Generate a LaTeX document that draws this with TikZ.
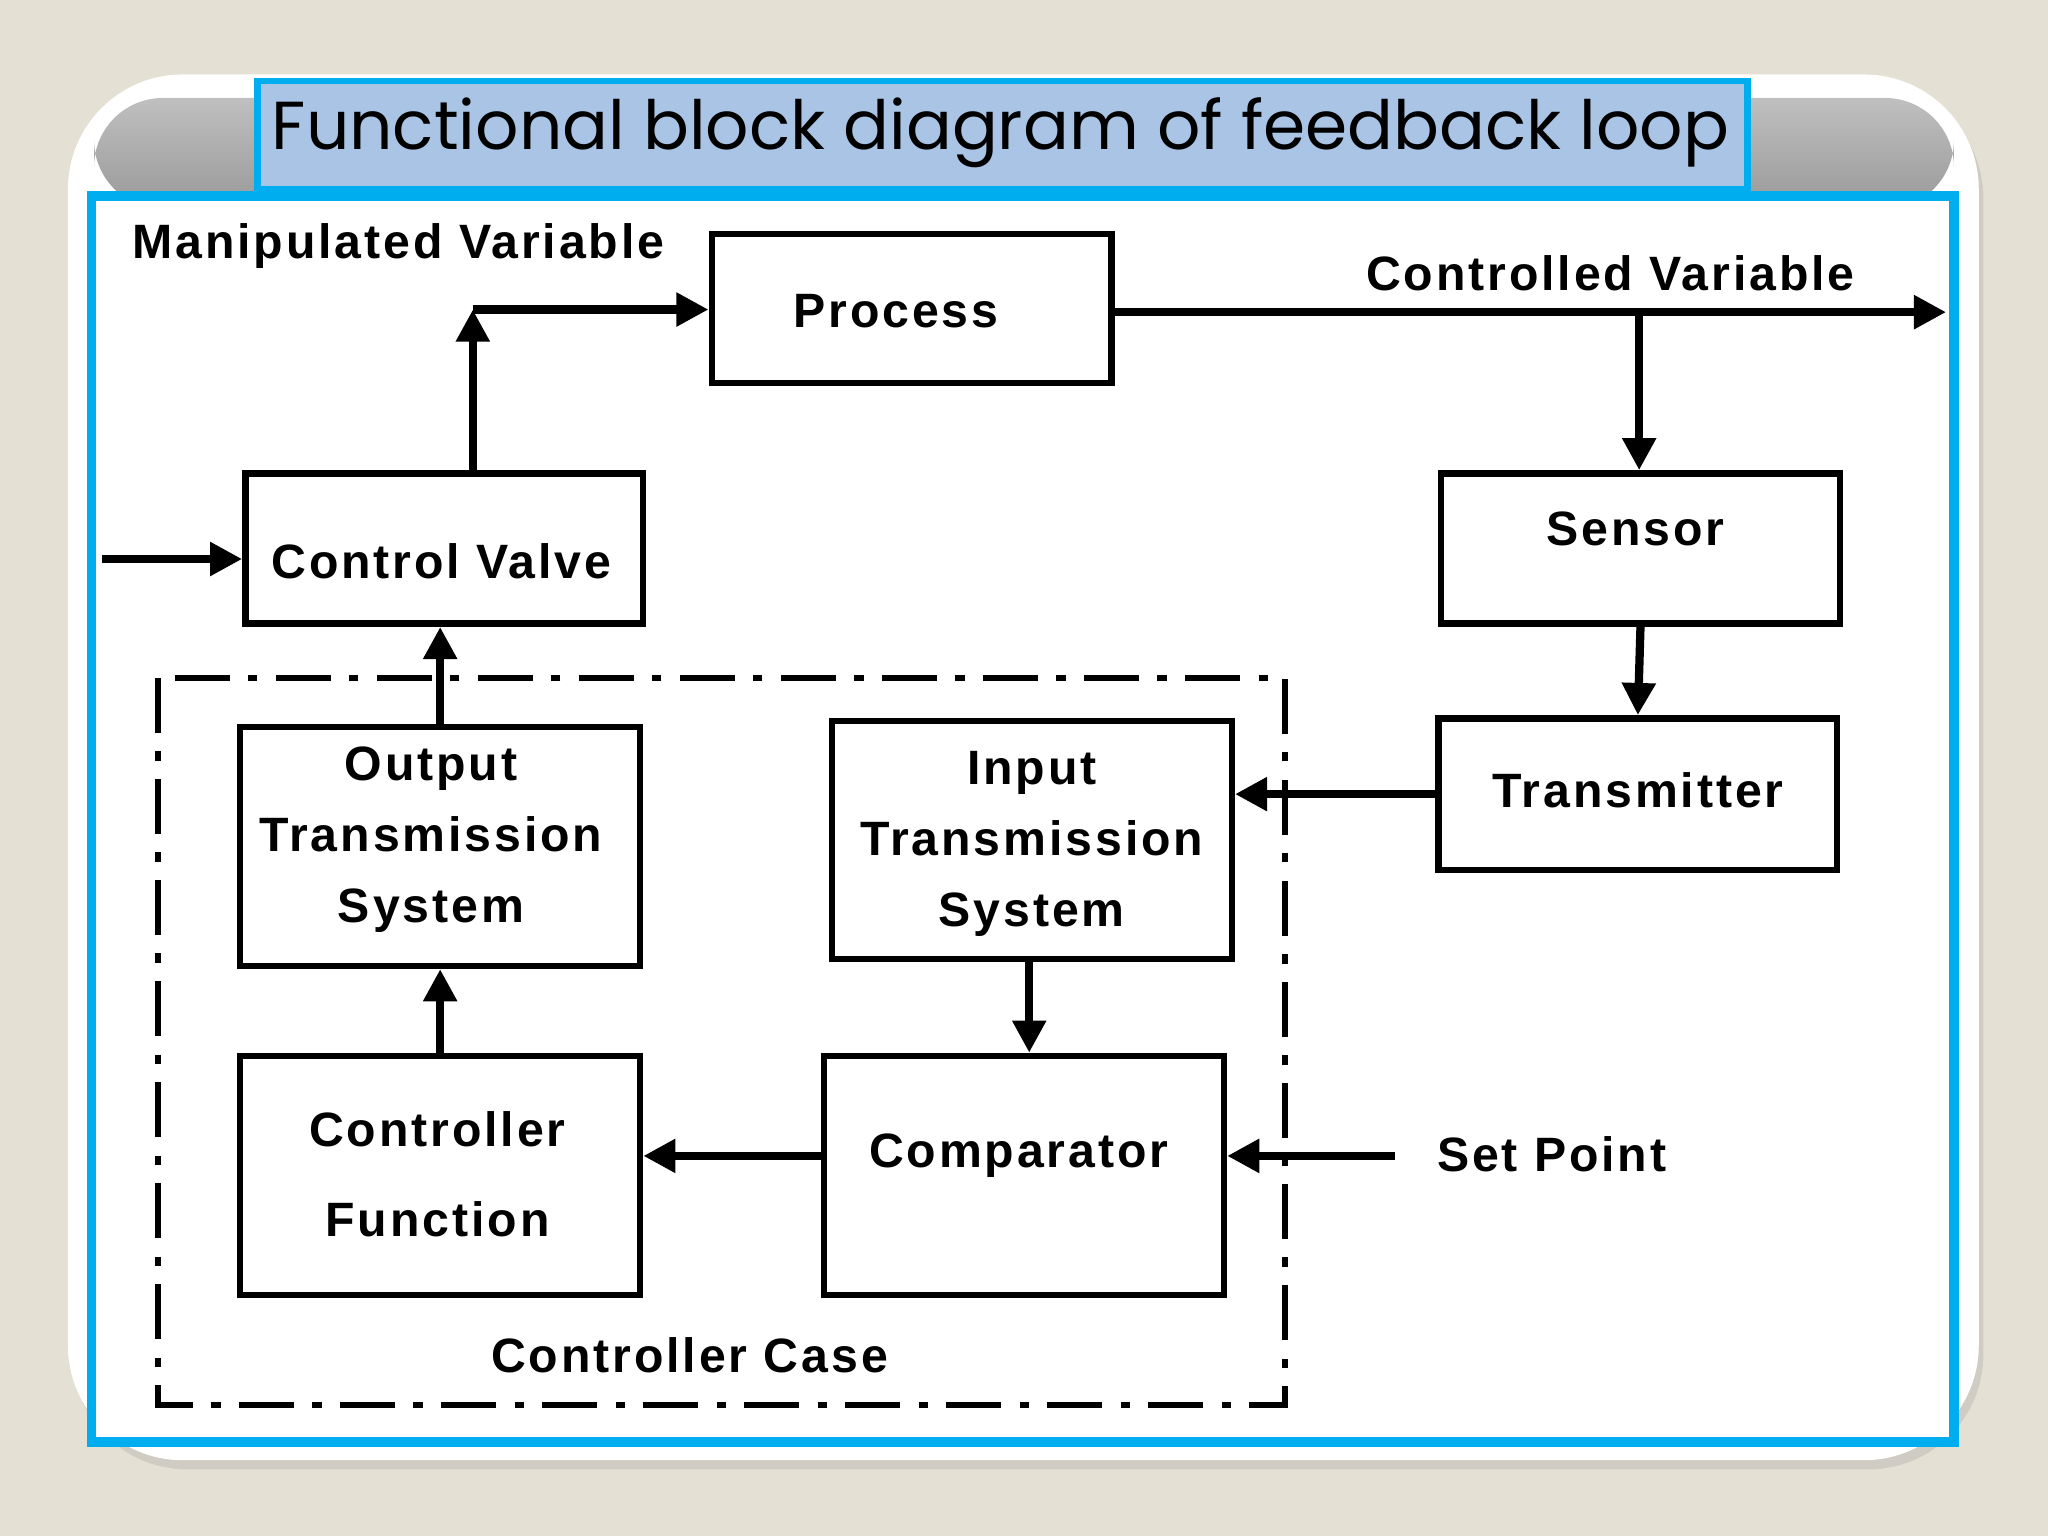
\documentclass[tikz,border=0pt]{standalone}
\usepackage{fontspec}
\setmainfont{Liberation Sans}
\newfontfamily\lbf[LetterSpace=6]{Liberation Sans}
\newfontfamily\titlefont{Poppins}
\usetikzlibrary{arrows.meta,shadows}
\definecolor{bg}{HTML}{E4E0D4}
\definecolor{cyanb}{HTML}{00AEEF}
\definecolor{titlebg}{HTML}{A9C4E4}
\begin{document}
\begin{tikzpicture}[x=0.01cm,y=-0.01cm,
  blk/.style={draw,line width=1.4pt,inner sep=0pt},
  lbl/.style={font=\lbf\fontsize{10.5}{15.4}\selectfont\bfseries,inner sep=0pt,align=center},
  arr/.style={line width=1.8pt,-{Triangle[length=7pt,width=7pt]}}]
\fill[bg] (0,0) rectangle (1568,1176);
\useasboundingbox (0,0) rectangle (1568,1176);
\fill[white,rounded corners=25pt,drop shadow={shadow xshift=1pt,shadow yshift=-2pt,opacity=0.2}] (52,57) rectangle (1515,1118);
\shade[top color=gray!50,bottom color=gray!80,rounded corners=15pt] (72,75) rectangle (1496,160);
\fill[white] (70,150) rectangle (1496,1104);
\draw[cyanb,line width=2pt] (70,150) rectangle (1496,1104);
\draw[cyanb,line width=1.5pt,fill=titlebg] (197,62) rectangle (1338,145);
\node[inner sep=0pt] (title) at (766,102) {\resizebox{11.15cm}{!}{\titlefont Functional block diagram of feedback loop}};
% blocks
\node[blk,minimum width=3.06cm,minimum height=1.14cm] (proc) at (698,236) {};
\node[blk,minimum width=3.04cm,minimum height=1.15cm] (cv) at (340,420) {};
\node[blk,minimum width=3.05cm,minimum height=1.15cm] (sen) at (1256,420) {};
\node[blk,minimum width=3.05cm,minimum height=1.16cm] (tr) at (1254,608) {};
\node[blk,minimum width=3.06cm,minimum height=1.83cm] (ots) at (337,648) {};
\node[blk,minimum width=3.06cm,minimum height=1.82cm] (its) at (790,643) {};
\node[blk,minimum width=3.06cm,minimum height=1.83cm] (cf) at (337,900) {};
\node[blk,minimum width=3.06cm,minimum height=1.83cm] (cmp) at (784,900) {};
\node[lbl] (tproc) at (686,238) {Process};
\node[lbl] (tcv) at (338,430) {Control Valve};
\node[lbl] (tsen) at (1252,405) {Sensor};
\node[lbl] (ttr) at (1254,605) {Transmitter};
\node[lbl] (tots) at (330,643) {Output\\Transmission\\System};
\node[lbl] (tits) at (790,646) {Input\\Transmission\\System};
\node[lbl,font=\lbf\fontsize{10.5}{19.6}\selectfont\bfseries] (tcf) at (335,899) {Controller\\Function};
\node[lbl] (tcmp) at (780,885) {Comparator};
\draw[line width=1.3pt,dash pattern=on 12pt off 4pt on 2pt off 4pt] (121,519) rectangle (984,1076);
% labels
\node[lbl] (mv) at (305,188) {Manipulated Variable};
\node[lbl] (cvar) at (1233,209) {Controlled Variable};
\node[lbl] (sp) at (1188,884) {Set Point};
\node[lbl] (cc) at (528,1038) {Controller Case};
\coordinate (out) at (1490,239);
\coordinate (br) at (1255,239);
\coordinate (inp) at (78,428);
\coordinate (spc) at (1068,885);
\coordinate (up) at (362,237);
% connectors
\draw[arr] (proc.east|-out) -- (out);
\draw[arr] (br) -- (br|-sen.north);
\draw[arr] (sen.south) -- (tr.north);
\draw[arr] (tr.west) -- (its.east|-tr.west);
\draw[arr] (its.south-|788,0) -- (cmp.north-|788,0);
\draw[arr] (spc) -- (cmp.east|-spc);
\draw[arr] (cmp.west|-spc) -- (cf.east|-spc);
\draw[arr] (cf.north) -- (ots.south);
\draw[arr] (ots.north) -- (cv.south-|ots.north);
\draw[arr] (inp) -- (cv.west|-inp);
\draw[arr] (cv.north-|up) -- (up);
\draw[arr] (up) -- (proc.west|-up);
\end{tikzpicture}
\end{document}
